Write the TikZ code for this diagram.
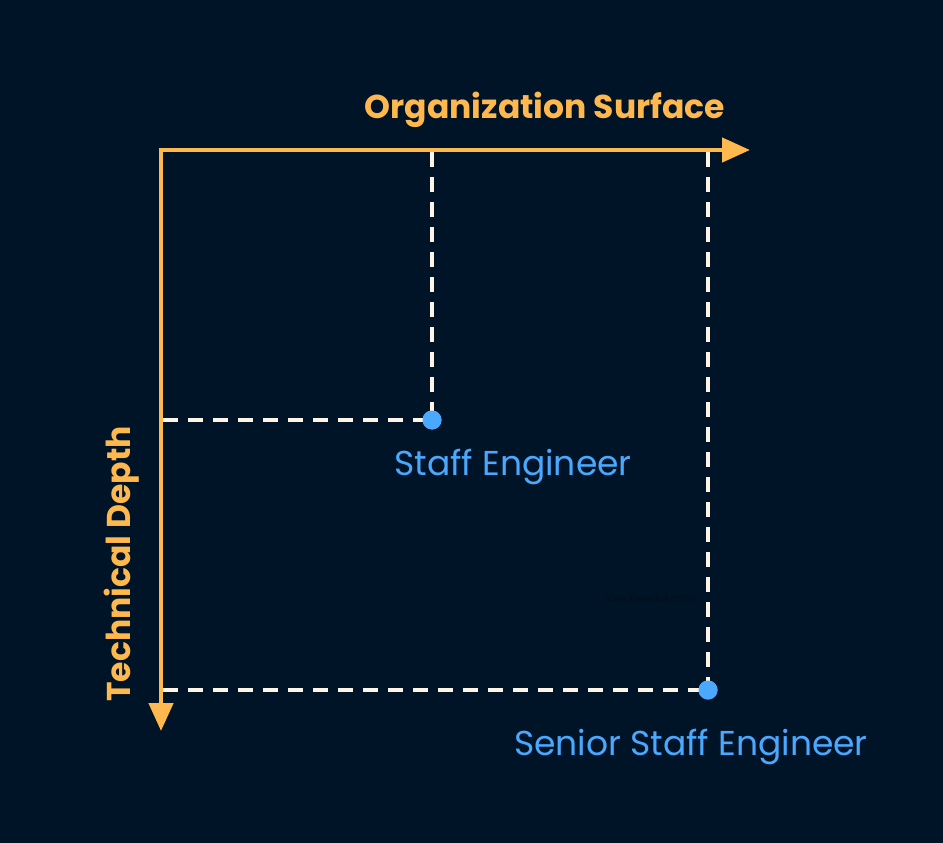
\documentclass[tikz,border=0pt]{standalone}
\usepackage{fontspec}
\setmainfont{Poppins}
\usetikzlibrary{arrows.meta}
\definecolor{bg}{HTML}{001427}
\definecolor{axis}{HTML}{FFB84D}
\definecolor{dot}{HTML}{4AA8FF}
\definecolor{dash}{HTML}{FFF5E6}
\definecolor{wm}{HTML}{000E1D}
\tikzset{
  axisline/.style={draw=axis, line width=4.5pt, -{Triangle[length=28pt,width=24pt]}},
  guide/.style={draw=dash, line width=3.3pt, dash pattern=on 15pt off 10pt},
  pointdot/.style={circle, fill=dot, inner sep=0pt, minimum size=19pt},
  axislabel/.style={text=axis, font=\fontsize{33}{38}\selectfont\bfseries, inner sep=0pt},
  pointlabel/.style={text=dot, font=\fontsize{34.5}{40}\selectfont, inner sep=0pt}
}
\begin{document}
\begin{tikzpicture}[x=1pt,y=-1pt]
\fill[bg] (0,0) rectangle (943,843);
\useasboundingbox (0,0) rectangle (943,843);
\node[text=wm, font=\fontsize{11}{13}\selectfont, inner sep=0pt] (wmark) at (650,598) {Alex Ewerlof.com};
\coordinate (o) at (161,150);
\coordinate (xend) at (750,150);
\coordinate (yend) at (161,731);
\coordinate (sx) at (432,152);
\coordinate (sy) at (163,420);
\coordinate (ssx) at (708,152);
\coordinate (ssy) at (163,690);
\node[pointdot] (s) at (432,420) {};
\node[pointdot] (ss) at (708,690) {};
\draw[guide] (sx) -- (s.center);
\draw[guide] (sy) -- (s.center);
\draw[guide] (ssx) -- (ss.center);
\draw[guide] (ssy) -- (ss.center);
\node[pointdot] at (s) {};
\node[pointdot] at (ss) {};
\draw[axisline] ([xshift=-2.25pt]o) -- (xend);
\draw[axisline] ([yshift=2.25pt]o) -- (yend);
\node[axislabel] (xl) at (545,110) {Organization Surface};
\node[axislabel, rotate=90] (yl) at (122,564) {Technical Depth};
\node[pointlabel] (sl) at (513,467) {Staff Engineer};
\node[pointlabel] (ssl) at (691,747) {Senior Staff Engineer};
\end{tikzpicture}
\end{document}
